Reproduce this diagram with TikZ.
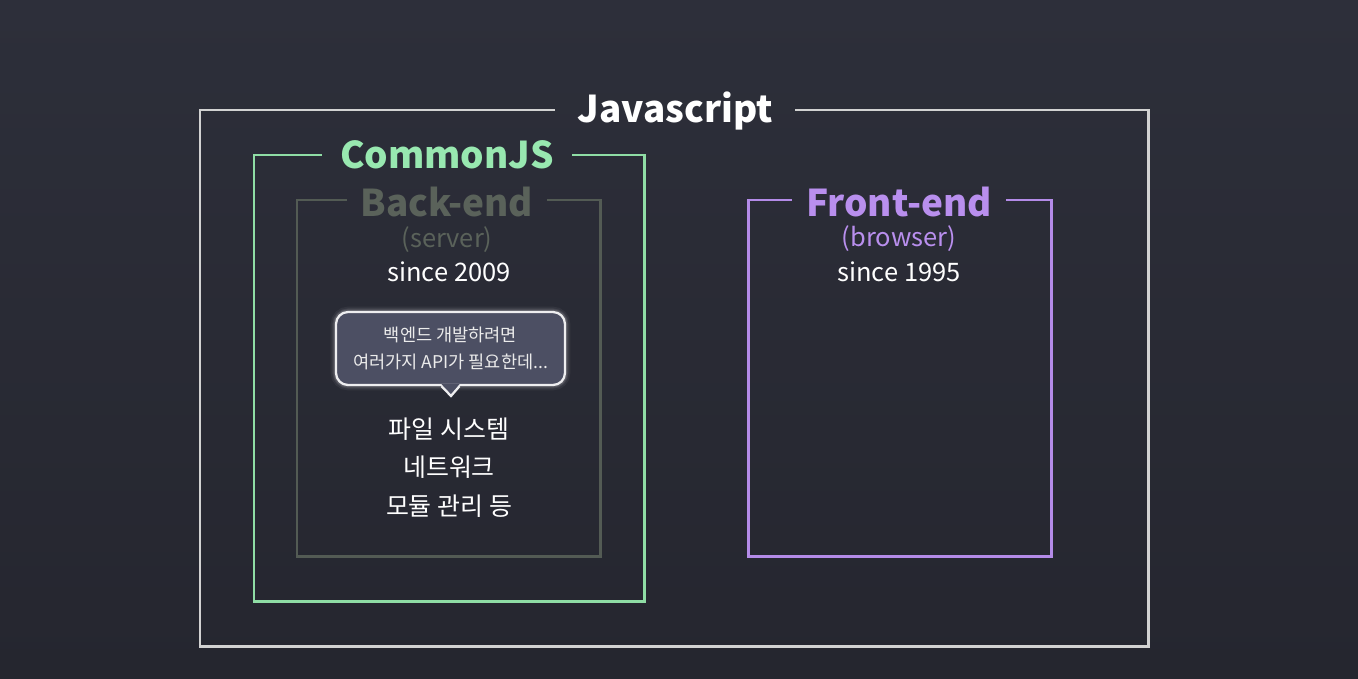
\documentclass[tikz,border=0pt]{standalone}
\usepackage{fontspec}
\setmainfont{Noto Sans CJK KR}
\usepackage{xcolor}
\usetikzlibrary{positioning, calc}

\definecolor{bgtop}{HTML}{2D2F3A}
\definecolor{bgbot}{HTML}{25262F}
\definecolor{jsgray}{HTML}{D2D2D2}
\definecolor{cjsgreen}{HTML}{8FDDA5}
\definecolor{cjstext}{HTML}{98E8B0}
\definecolor{backgray}{HTML}{535B54}
\definecolor{backtext}{HTML}{5A625A}
\definecolor{frontpurple}{HTML}{B48BE8}
\definecolor{fronttext}{HTML}{B98FEE}
\definecolor{bubblefill}{HTML}{4C4F63}
\definecolor{bubbleline}{HTML}{EEEEF0}

\begin{document}
\begin{tikzpicture}[x=0.02cm, y=-0.02cm]
\tikzstyle{frame} = [line width=1.7pt]
\tikzstyle{title} = [font=\bfseries\fontsize{21}{25}\selectfont, anchor=base, inner xsep=0.28cm, inner ysep=0pt]
\tikzstyle{sub} = [font=\fontsize{14.5}{17}\selectfont, anchor=base, inner sep=0pt]
\tikzstyle{item} = [font=\fontsize{14.2}{17}\selectfont, anchor=base, inner sep=0pt, text=white]
\tikzstyle{bubble} = [rectangle, rounded corners=0.24cm, draw=bubbleline, line width=1.3pt, fill=bubblefill, text=white!92!black, minimum width=4.58cm, minimum height=1.46cm, align=center, font=\fontsize{10}{15.5}\selectfont]

% Background
\shade[top color=bgtop, bottom color=bgbot] (0,0) rectangle (1358,679);
\useasboundingbox (0,0) rectangle (1358,679);

% Javascript
\coordinate (js-nw) at (200,110);
\coordinate (js-se) at (1148,646);
\node[title, text=white, inner xsep=0.44cm] (jsT) at (675,122) {Javascript};
\draw[frame, jsgray] (jsT.west |- js-nw) -- (js-nw) |- (js-se) |- (jsT.east |- js-nw);

% CommonJS
\coordinate (cjs-nw) at (254,155);
\coordinate (cjs-se) at (644,601);
\node[title, text=cjstext, inner xsep=0.36cm] (cjsT) at (447,168) {CommonJS};
\draw[frame, cjsgreen] (cjsT.west |- cjs-nw) -- (cjs-nw) |- (cjs-se) |- (cjsT.east |- cjs-nw);

% Back-end
\coordinate (back-nw) at (297,200);
\coordinate (back-se) at (600,556);
\node[title, text=backtext] (backT) at (447,216) {Back-end};
\draw[frame, backgray] (backT.west |- back-nw) -- (back-nw) |- (back-se) |- (backT.east |- back-nw);
\node[sub, text=backtext] (server) at (447,247) {(server)};
\node[sub, text=white] (since09) at (449,281) {since 2009};

% Speech bubble (soft glow first)
\foreach \w/\o in {6pt/0.05, 4pt/0.08, 2.8pt/0.12}
  \draw[white, opacity=\o, line width=\w, rounded corners=0.24cm] (336,312) rectangle (565,385);
\node[bubble] (bubble) at (450.5,348.5) {백엔드 개발하려면\\여러가지 API가 필요한데...};
\coordinate (tip) at (451,396);
\fill[bubblefill] ($(bubble.south)+(-9,-2)$) -- (tip) -- ($(bubble.south)+(9,-2)$) -- cycle;
\draw[bubbleline, line width=1.3pt] ($(bubble.south)+(-9,0)$) -- (tip) -- ($(bubble.south)+(9,0)$);

% APIs
\node[item] (file) at (449,438) {파일 시스템};
\node[item] (net) at (449,476) {네트워크};
\node[item] (module) at (449,515) {모듈 관리 등};

% Front-end
\coordinate (front-nw) at (748,200);
\coordinate (front-se) at (1051,556);
\node[title, text=fronttext] (frontT) at (899,216) {Front-end};
\draw[frame, frontpurple] (frontT.west |- front-nw) -- (front-nw) |- (front-se) |- (frontT.east |- front-nw);
\node[sub, text=fronttext] (browser) at (899,246) {(browser)};
\node[sub, text=white] (since95) at (899,281) {since 1995};
\end{tikzpicture}
\end{document}
